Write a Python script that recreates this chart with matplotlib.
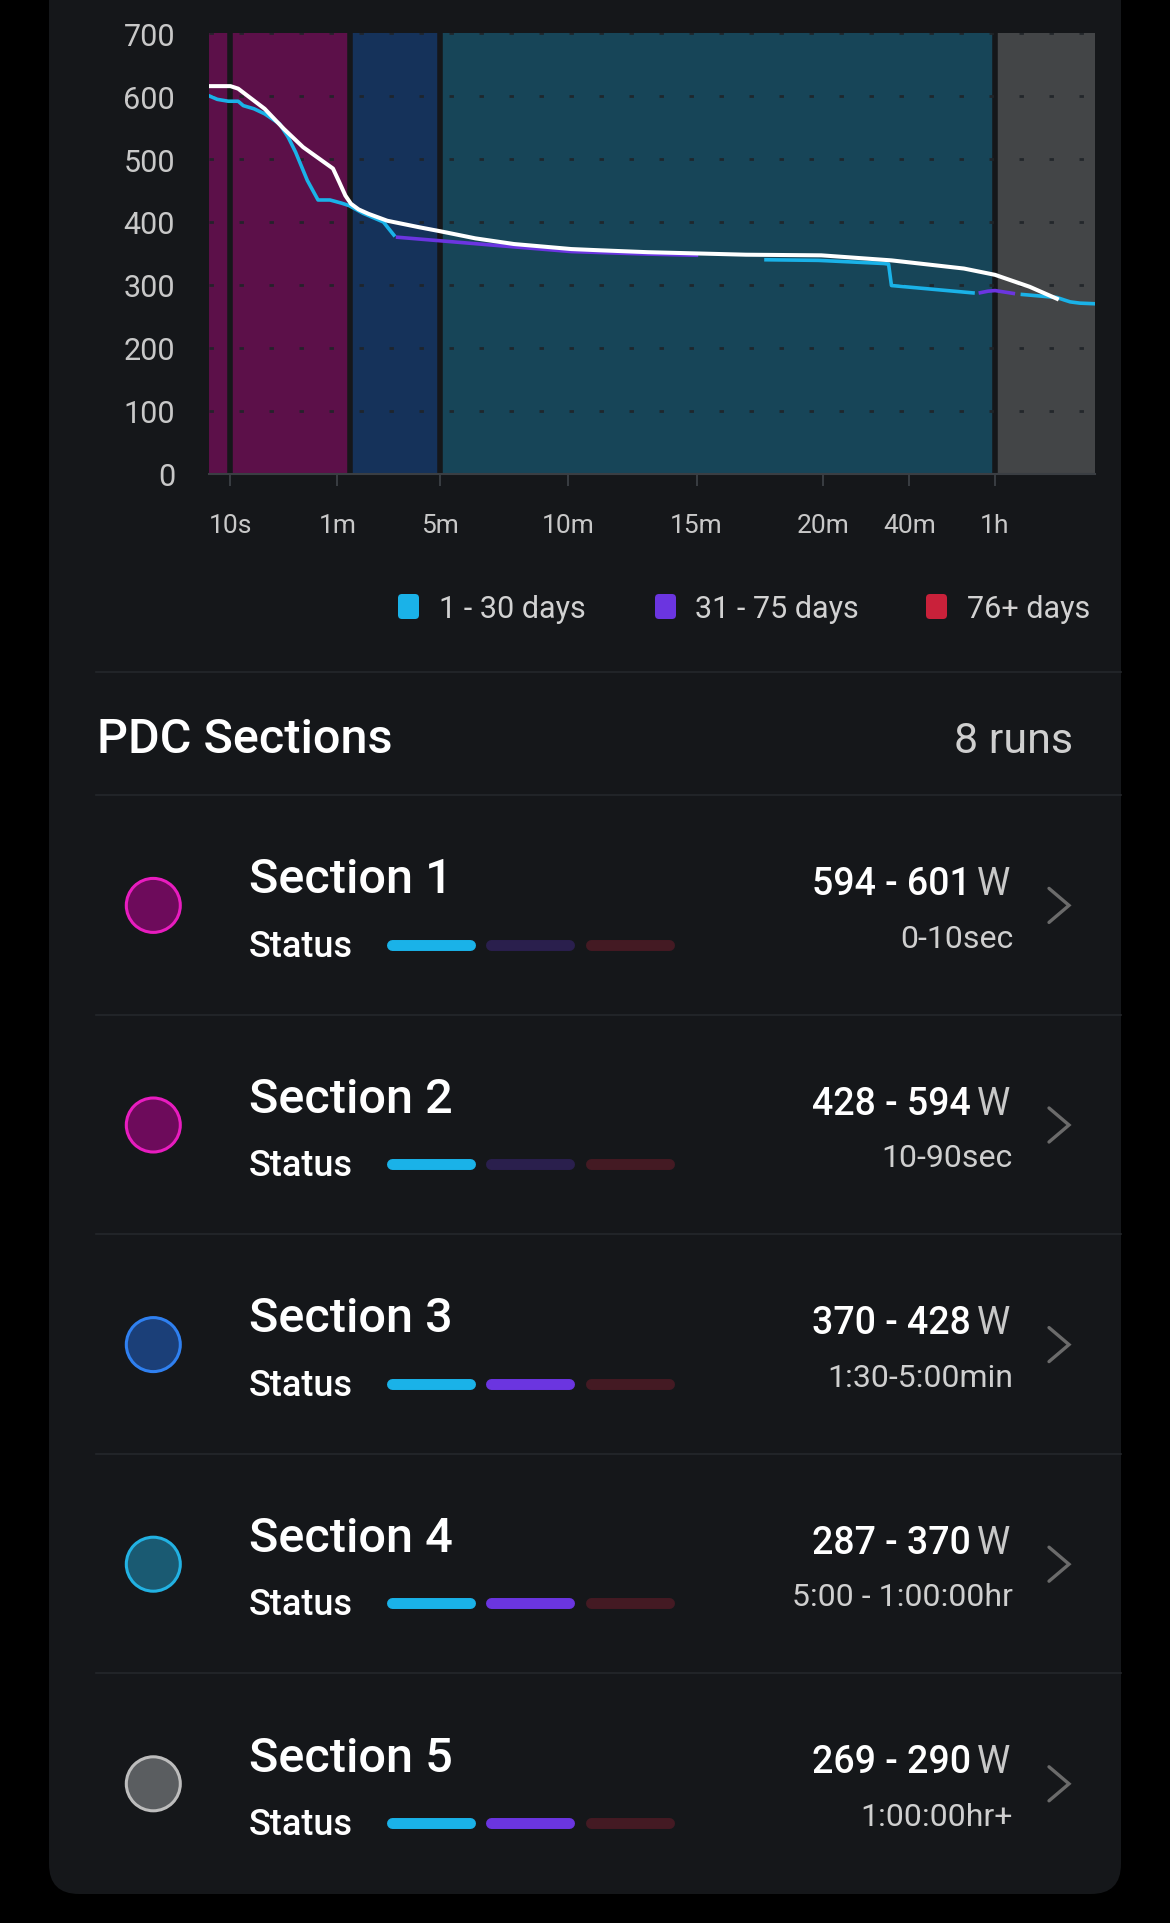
import numpy as np
import matplotlib.pyplot as plt
from matplotlib.patches import FancyBboxPatch, Circle

plt.rcParams['font.family'] = ['Roboto', 'DejaVu Sans']

# ---- chart data ----
tick_secs = [10, 60, 300, 600, 900, 1200, 2400, 3600]
tick_labels = ['10s', '1m', '5m', '10m', '15m', '20m', '40m', '1h']

# the duration axis is stretched piecewise between these points
scale_secs = [0, 10, 60, 300, 600, 900, 1200, 2400, 3600, 5000]
scale_pos = [0, 17.9, 104.9, 188.5, 293.1, 397.6, 501, 571, 640.8, 722.5]

zone_edges = [0, 10, 90, 300, 3600, 5000]
zone_colors = ['#5c1049', '#5c1049', '#15325a', '#174558', '#434547']

# all-time best curve (white)
best_s = [0, 10, 13.6, 26, 35, 44, 58, 65, 79, 92, 110, 133, 177, 249, 303, 383,
          473, 607, 675, 786, 845, 1017, 1195, 2150, 3165, 3600, 4084, 4464]
best_w = [616, 616, 612, 580, 548, 519, 485, 463, 442, 429, 420, 413, 402, 392, 385, 374,
          365, 357, 355, 352, 351, 348, 347, 339, 326, 316, 297, 278]

# 1 - 30 days (cyan), three pieces
recent_a_s = [0, 4, 9, 13.6, 16, 21, 26, 33, 37, 40.5, 46, 51, 56.6, 70, 88, 120, 168, 182, 195]
recent_a_w = [601, 595, 592, 592, 585, 580, 572, 556, 535, 511, 466, 435, 435, 430, 426, 414, 400, 388, 377]
recent_b_s = [1060, 1188, 2047, 2110, 2150, 3317]
recent_b_w = [340, 339, 334, 333, 299, 287]
recent_c_s = [3957, 4464, 4567, 4650, 4785, 5000]
recent_c_w = [285, 280, 276, 273, 271, 270]

# 31 - 75 days (purple), two pieces
mid_a_s = [197, 303, 428, 607, 786, 904]
mid_a_w = [376, 370, 363, 353, 349, 347]
mid_b_s = [3370, 3500, 3600, 3880]
mid_b_w = [287, 290, 291, 286]

legend_labels = ['1 - 30 days', '31 - 75 days', '76+ days']
legend_colors = ['#1ab2e8', '#6b35e0', '#c9213a']

# ---- section list ----
sec_names = ['Section 1', 'Section 2', 'Section 3', 'Section 4', 'Section 5']
sec_low = [594, 428, 370, 287, 269]
sec_high = [601, 594, 428, 370, 290]
sec_span = ['0-10sec', '10-90sec', '1:30-5:00min', '5:00 - 1:00:00hr', '1:00:00hr+']
sec_face = ['#6d0b5b', '#6d0b5b', '#1b3f78', '#1a5a72', '#5a5d60']
sec_edge = ['#e81cbf', '#e81cbf', '#2f80f0', '#22b2e3', '#bdbdbd']
sec_status = [[1, 0, 0], [1, 0, 0], [1, 1, 0], [1, 1, 0], [1, 1, 0]]
status_off = ['#10394a', '#2a1f4d', '#441a23']
runs_label = '8 runs'

CARD = '#15171a'
W, H = 1170, 1924

fig = plt.figure(figsize=(W / 100, H / 100), dpi=100, facecolor='black')
bg = fig.add_axes([0, 0, 1, 1])
bg.set_xlim(0, W)
bg.set_ylim(H, 0)
bg.axis('off')
bg.add_patch(FancyBboxPatch((49, -60), 1072, 1955,
                            boxstyle='round,pad=0,rounding_size=30', fc=CARD, ec='none'))

# ---- chart ----
L, R, T, B = 208.5, 1095.3, 34.3, 474.6
ax = fig.add_axes([L / W, 1 - B / H, (R - L) / W, (B - T) / H], zorder=2)
ax.set_facecolor('none')


def fwd(x):
    return np.interp(x, scale_secs, scale_pos)


def inv(p):
    return np.interp(p, scale_pos, scale_secs)


ax.set_xscale('function', functions=(fwd, inv))
ax.set_xlim(0, 5000)
ax.set_ylim(0, 700)

for i, c in enumerate(zone_colors):
    ax.axvspan(zone_edges[i], zone_edges[i + 1], color=c, lw=0, zorder=0)
for e in zone_edges[1:-1]:
    ax.axvline(e, color=CARD, lw=4, zorder=0.5)

for v in range(100, 701, 100):
    ax.axhline(v, color='#202428', alpha=0.9, lw=2, ls=(0, (1.6, 9.2)), zorder=1)

kw = dict(lw=2.6, solid_joinstyle='round', solid_capstyle='butt', zorder=3)
ax.plot(recent_a_s, recent_a_w, color=legend_colors[0], **kw)
ax.plot(recent_b_s, recent_b_w, color=legend_colors[0], **kw)
ax.plot(recent_c_s, recent_c_w, color=legend_colors[0], **kw)
ax.plot(mid_a_s, mid_a_w, color=legend_colors[1], **kw)
ax.plot(mid_b_s, mid_b_w, color=legend_colors[1], **kw)
ax.plot(best_s, best_w, color='white', lw=2.9, solid_joinstyle='round', zorder=4)

for s in ['top', 'right', 'left']:
    ax.spines[s].set_visible(False)
ax.spines['bottom'].set_color('#3a3e43')
ax.spines['bottom'].set_linewidth(1.5)

ax.set_yticks(range(0, 701, 100))
ax.set_xticks(tick_secs, tick_labels)
ax.tick_params(axis='y', length=0, pad=24, labelsize=22, labelcolor='#c8c8c8')
ax.tick_params(axis='x', length=8.6, width=1.4, color='#3a3e43', pad=20,
               labelsize=19, labelcolor='#c8c8c8')

# ---- legend ----
leg_box_x = [398, 655, 926]
leg_text_x = [439, 695, 967]
for bx, tx, lab, col in zip(leg_box_x, leg_text_x, legend_labels, legend_colors):
    bg.add_patch(FancyBboxPatch((bx, 595), 21, 25, boxstyle='round,pad=0,rounding_size=4',
                                fc=col, ec='none'))
    bg.text(tx, 618, lab, fontsize=22, color='#d2d2d2', va='baseline', ha='left')

# ---- section list ----
SEP = '#24272b'
MED = 500
bg.plot([96, 1121], [673, 673], color=SEP, lw=1.2)
bg.text(97, 753, 'PDC Sections', fontsize=35, color='white', va='baseline', ha='left',
        fontweight=MED)
bg.text(1073, 753, runs_label, fontsize=31, color='#cfcfcf', va='baseline', ha='right')

bar_x = [386.3, 485.7, 585.0]
bar_len = 89.0
for i, name in enumerate(sec_names):
    top = 796 + 219.6 * i
    bg.plot([96, 1121], [top, top], color=SEP, lw=1.2)
    cy = top + 110.4
    bg.add_patch(Circle((153.3, cy), 27, fc=sec_face[i], ec=sec_edge[i], lw=2.2))
    bg.text(249, top + 97.3, name, fontsize=35, color='white', va='baseline', ha='left',
            fontweight=MED)
    bg.text(249, top + 160.7, 'Status', fontsize=26, color='white', va='baseline', ha='left',
            fontweight=MED)
    for j, bx in enumerate(bar_x):
        col = legend_colors[j] if sec_status[i][j] else status_off[j]
        bg.plot([bx + 5.5, bx + bar_len - 5.5], [top + 149.5, top + 149.5], color=col,
                lw=7.9, solid_capstyle='round')
    bg.text(971, top + 99, f'{sec_low[i]} - {sec_high[i]}', fontsize=27, color='white',
            va='baseline', ha='right', fontweight=MED)
    bg.text(977, top + 99, 'W', fontsize=27, color='#c8c8c8', va='baseline', ha='left')
    bg.text(1013, top + 151.7, sec_span[i], fontsize=23, color='#cfcfcf',
            va='baseline', ha='right')
    bg.plot([1049, 1069, 1049], [cy - 17, cy, cy + 17], color='#6b6b6b', lw=2.4,
            solid_capstyle='round', solid_joinstyle='miter')

fig.savefig('out.png', dpi=100, facecolor='black')
